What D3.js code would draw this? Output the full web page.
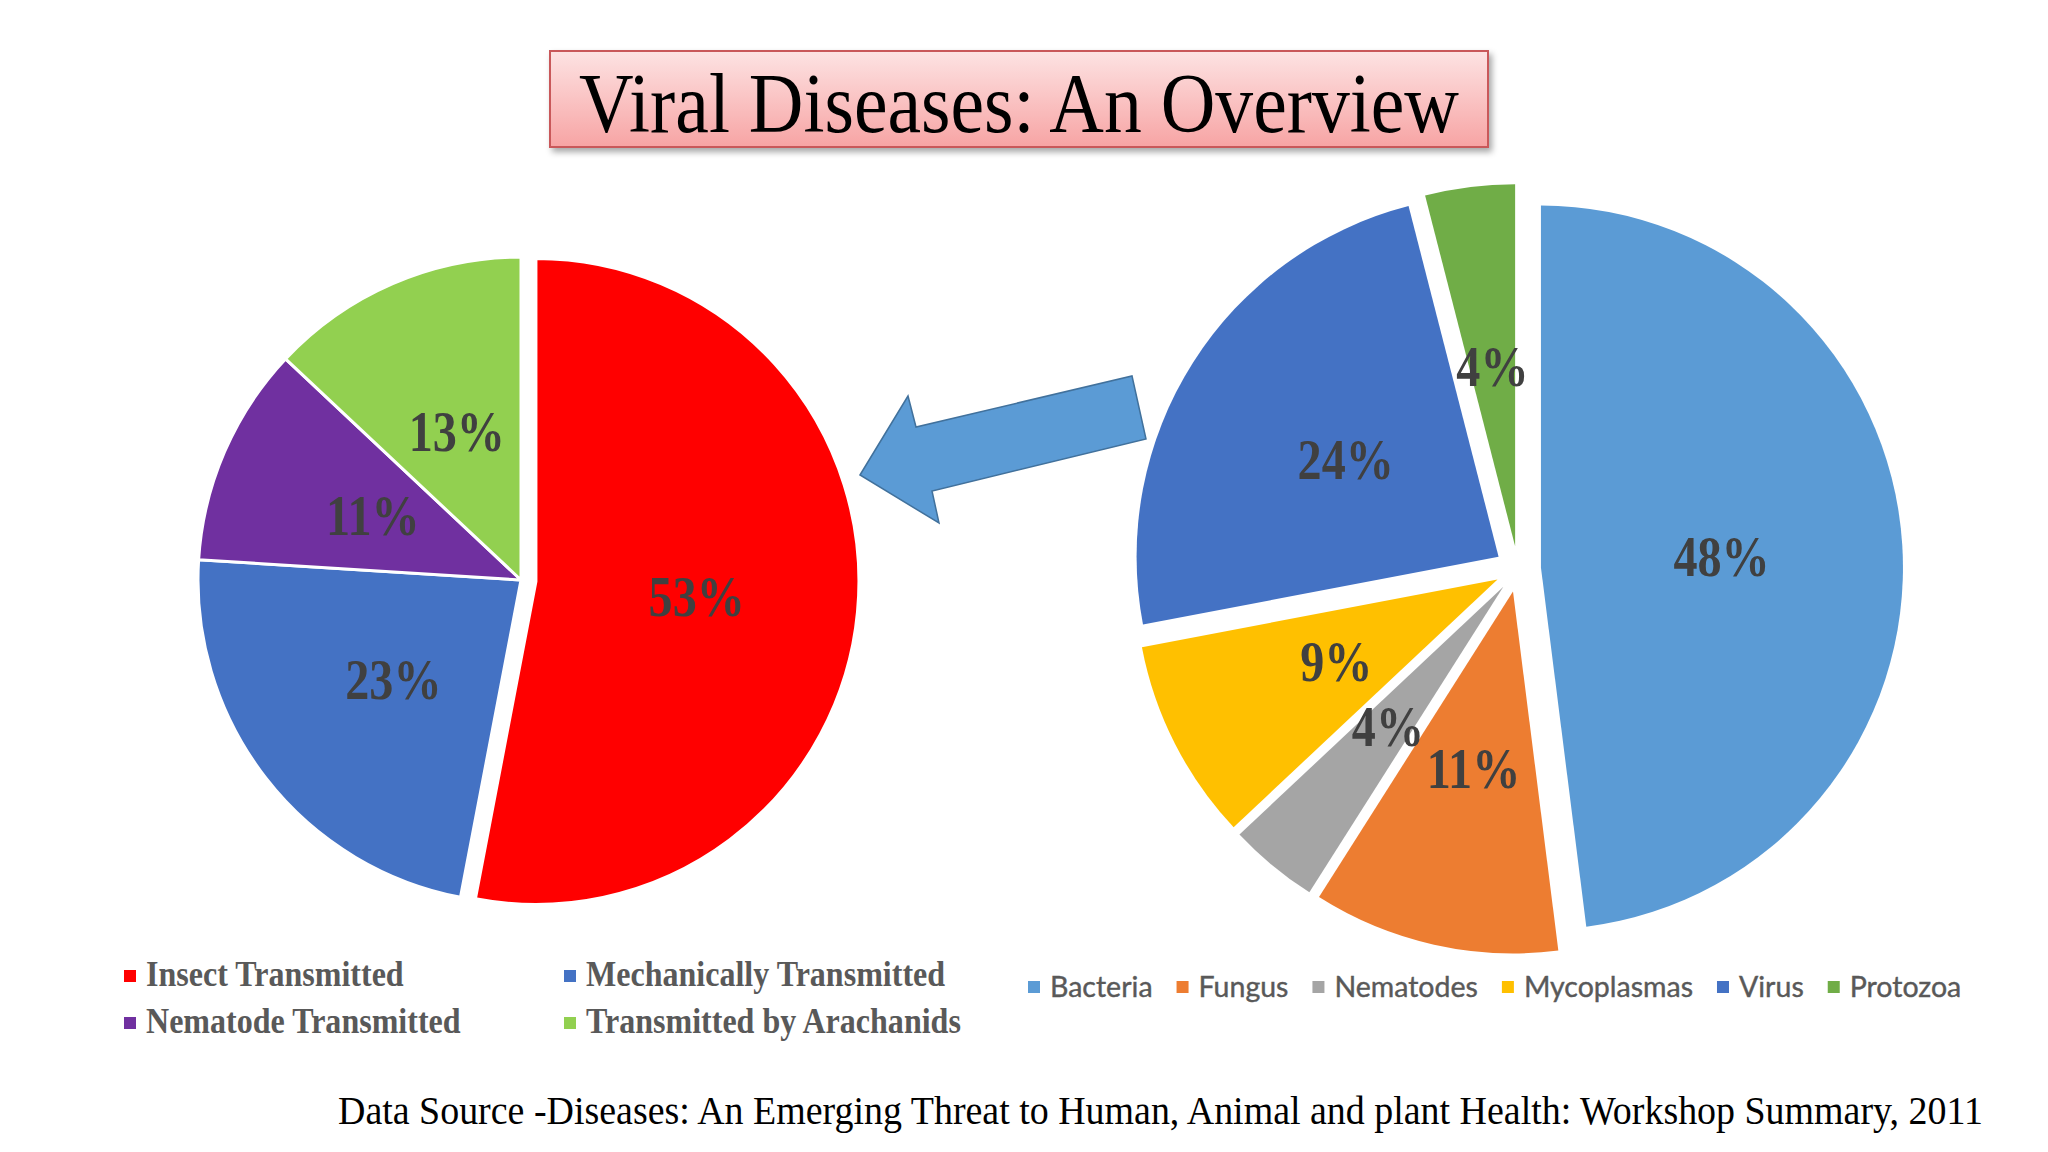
<!DOCTYPE html>
<html lang="en">
<head>
   <meta charset="UTF-8">
   <title>Viral Diseases: An Overview</title>
   <script src="https://d3js.org/d3.v7.min.js"></script>
   <style>
      body { margin: 0; background: #fff; }
   </style>
</head>
<body>
   <script>

      // left pie: how viral diseases are transmitted
      const leftCategories = ['Insect Transmitted', 'Mechanically Transmitted', 'Nematode Transmitted', 'Transmitted by Arachanids'];
      const leftValues = [53, 23, 11, 13];
      const leftColors = ['#ff0000', '#4472c4', '#7030a0', '#92d050'];
      const leftExplode = [15, 0, 0, 0];

      // right pie: plant diseases by pathogen
      const rightCategories = ['Bacteria', 'Fungus', 'Nematodes', 'Mycoplasmas', 'Virus', 'Protozoa'];
      const rightValues = [48, 11, 4, 9, 24, 4];
      const rightColors = ['#5b9bd5', '#ed7d31', '#a5a5a5', '#ffc000', '#4472c4', '#70ad47'];
      const rightExplode = [23, 23, 23, 23, 23, 23];

      const W = 2048, H = 1152;
      const squeeze = 0.86; // text in the original looks horizontally condensed

      const svg = d3.select('body').append('svg').attr('width', W).attr('height', H);
      svg.append('rect').attr('width', W).attr('height', H).attr('fill', '#fff');

      const defs = svg.append('defs');
      const grad = defs.append('linearGradient').attr('id', 'titleGrad')
         .attr('x1', 0).attr('y1', 0).attr('x2', 0).attr('y2', 1);
      grad.append('stop').attr('offset', '0%').attr('stop-color', '#fde3e3');
      grad.append('stop').attr('offset', '100%').attr('stop-color', '#f7a4a4');
      const shadow = defs.append('filter').attr('id', 'shadow')
         .attr('x', '-5%').attr('y', '-20%').attr('width', '115%').attr('height', '160%');
      shadow.append('feDropShadow').attr('dx', 3).attr('dy', 4).attr('stdDeviation', 3)
         .attr('flood-color', '#000').attr('flood-opacity', 0.35);

      // title box
      svg.append('rect')
         .attr('x', 550).attr('y', 51).attr('width', 938).attr('height', 96)
         .attr('fill', 'url(#titleGrad)')
         .attr('stroke', '#c9585a').attr('stroke-width', 2)
         .attr('filter', 'url(#shadow)');
      svg.append('text')
         .attr('x', 1019).attr('y', 132)
         .attr('text-anchor', 'middle')
         .attr('font-family', '"Liberation Serif", "Times New Roman", serif')
         .attr('font-size', 84)
         .attr('textLength', 880).attr('lengthAdjust', 'spacingAndGlyphs')
         .attr('fill', '#000')
         .text('Viral Diseases: An Overview');

      function drawPie(cx, cy, r, values, colors, explode, strokeW) {
         const pie = d3.pie().sort(null).value(d => d);
         const arcGen = d3.arc().innerRadius(0).outerRadius(r);
         const labelArc = d3.arc().innerRadius(r * 0.5).outerRadius(r * 0.5);

         const g = svg.append('g').attr('transform', `translate(${cx}, ${cy})`);
         const slices = g.selectAll('.arc')
            .data(pie(values))
            .enter()
            .append('g')
            .attr('class', 'arc')
            .attr('transform', d => {
               const mid = (d.startAngle + d.endAngle) / 2;
               const off = explode[d.index];
               return `translate(${Math.sin(mid) * off}, ${-Math.cos(mid) * off})`;
            });

         slices.append('path')
            .attr('d', arcGen)
            .attr('fill', d => colors[d.index])
            .attr('stroke', '#fff')
            .attr('stroke-width', strokeW)
            .attr('stroke-linejoin', 'round');

         slices.append('text')
            .attr('transform', d => {
               const [x, y] = labelArc.centroid(d);
               return `translate(${x}, ${y}) scale(${squeeze}, 1)`;
            })
            .attr('text-anchor', 'middle')
            .attr('dy', '0.35em')
            .attr('font-family', '"Liberation Serif", "Times New Roman", serif')
            .attr('font-weight', 'bold')
            .attr('font-size', 56)
            .attr('fill', '#404040')
            .text(d => d.data + '%');
      }

      drawPie(521, 580, 323, leftValues, leftColors, leftExplode, 3);
      drawPie(1518, 569, 362, rightValues, rightColors, rightExplode, 0);

      // arrow from the right pie to the left pie
      const arrowPts = [[860, 475], [908, 396], [916, 427], [1132, 376], [1146, 439], [932, 491], [939, 523]];
      svg.append('path')
         .attr('d', d3.line()(arrowPts) + 'Z')
         .attr('fill', '#5b9bd5')
         .attr('stroke', '#41719c')
         .attr('stroke-width', 1.5)
         .attr('stroke-linejoin', 'miter');

      // left legend (2 x 2)
      const leftLeg = svg.append('g');
      const colX = [124, 564], rowY = [974, 1021];
      leftCategories.forEach((c, i) => {
         const x = colX[i % 2], y = rowY[Math.floor(i / 2)];
         leftLeg.append('rect')
            .attr('x', x).attr('y', y - 4).attr('width', 12).attr('height', 12)
            .attr('fill', leftColors[i]);
         leftLeg.append('text')
            .attr('transform', `translate(${x + 22}, ${y + 12}) scale(0.89, 1)`)
            .attr('font-family', '"Liberation Serif", "Times New Roman", serif')
            .attr('font-weight', 'bold')
            .attr('font-size', 36)
            .attr('fill', '#595959')
            .text(c);
      });

      // right legend (one row)
      const rightLeg = svg.append('g');
      let lx = 1028;
      const ly = 987;
      rightCategories.forEach((c, i) => {
         rightLeg.append('rect')
            .attr('x', lx).attr('y', ly - 6).attr('width', 12).attr('height', 12)
            .attr('fill', rightColors[i]);
         const t = rightLeg.append('text')
            .attr('x', lx + 22).attr('y', ly + 10)
            .attr('font-family', 'Lato, "Open Sans", sans-serif')
            .attr('font-size', 28.5)
            .attr('fill', '#595959')
            .attr('stroke', '#595959').attr('stroke-width', 0.4)
            .text(c);
         lx += 22 + t.node().getComputedTextLength() + 24;
      });

      // source note
      svg.append('text')
         .attr('x', 338).attr('y', 1124)
         .attr('font-family', '"Liberation Serif", "Times New Roman", serif')
         .attr('font-size', 39)
         .attr('textLength', 1645).attr('lengthAdjust', 'spacingAndGlyphs')
         .attr('fill', '#000')
         .text('Data Source -Diseases: An Emerging Threat to Human, Animal and plant Health: Workshop Summary, 2011');

   </script>
</body>
</html>
